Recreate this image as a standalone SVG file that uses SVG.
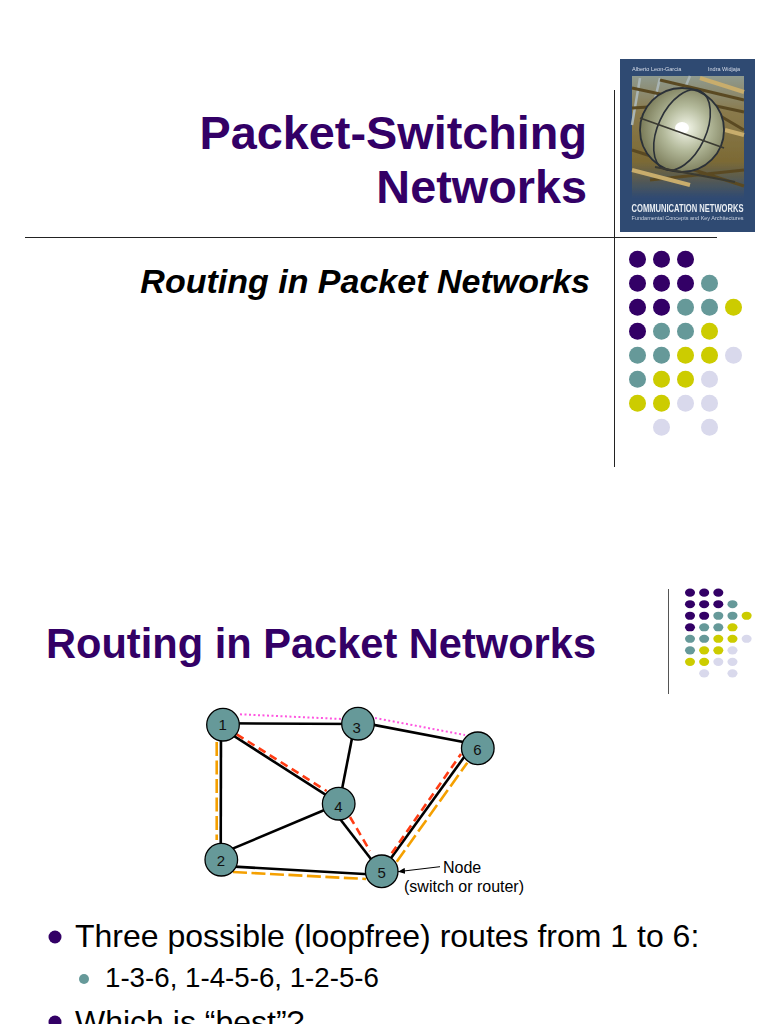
<svg xmlns="http://www.w3.org/2000/svg" width="768" height="1024" viewBox="0 0 768 1024">
<style>
text{font-family:"Liberation Sans",Arial,sans-serif}
.t{fill:#330066;font-weight:bold}
.k{fill:#000}
.p{fill:#330066}.g{fill:#669999}.y{fill:#cccc00}.l{fill:#d9d9ec}
.e{stroke:#000;stroke-width:2.6;fill:none}
.n{fill:#669999;stroke:#000;stroke-width:1.3}
.nt{font-size:15px;fill:#111;text-anchor:middle}
</style>
<defs>
<marker id="ah" markerWidth="8" markerHeight="6" refX="7" refY="3" orient="auto"><path d="M0 0L7 3L0 6z" fill="#000"/></marker>
<g id="dots">
<g class="p"><circle cx="0" cy="0" r="8.5"/><circle cx="24" cy="0" r="8.5"/><circle cx="48" cy="0" r="8.5"/><circle cx="0" cy="24" r="8.5"/><circle cx="24" cy="24" r="8.5"/><circle cx="48" cy="24" r="8.5"/><circle cx="0" cy="48" r="8.5"/><circle cx="24" cy="48" r="8.5"/><circle cx="0" cy="72" r="8.5"/></g>
<g class="g"><circle cx="72" cy="24" r="8.5"/><circle cx="48" cy="48" r="8.5"/><circle cx="72" cy="48" r="8.5"/><circle cx="24" cy="72" r="8.5"/><circle cx="48" cy="72" r="8.5"/><circle cx="0" cy="96" r="8.5"/><circle cx="24" cy="96" r="8.5"/><circle cx="0" cy="120" r="8.5"/></g>
<g class="y"><circle cx="96" cy="48" r="8.5"/><circle cx="72" cy="72" r="8.5"/><circle cx="48" cy="96" r="8.5"/><circle cx="72" cy="96" r="8.5"/><circle cx="24" cy="120" r="8.5"/><circle cx="48" cy="120" r="8.5"/><circle cx="0" cy="144" r="8.5"/><circle cx="24" cy="144" r="8.5"/></g>
<g class="l"><circle cx="96" cy="96" r="8.5"/><circle cx="72" cy="120" r="8.5"/><circle cx="48" cy="144" r="8.5"/><circle cx="72" cy="144" r="8.5"/><circle cx="24" cy="168" r="8.5"/><circle cx="72" cy="168" r="8.5"/></g>
</g>
<radialGradient id="globe" cx="0.55" cy="0.48" r="0.6"><stop offset="0" stop-color="#f4f7ea"/><stop offset="0.45" stop-color="#b3b99a"/><stop offset="1" stop-color="#6f6f4c"/></radialGradient>
<linearGradient id="bg" x1="0" y1="0" x2="0" y2="1"><stop offset="0" stop-color="#8f9a8f"/><stop offset="0.3" stop-color="#8a7a4c"/><stop offset="0.7" stop-color="#7c6a35"/><stop offset="1" stop-color="#2f4a72"/></linearGradient>
<filter id="soft"><feGaussianBlur stdDeviation="0.6"/></filter>
<filter id="soft2"><feGaussianBlur stdDeviation="0.25"/></filter>
</defs>
<rect width="768" height="1024" fill="#fff"/>

<g id="cover">
<rect x="620" y="59" width="135" height="173" fill="#2f4a72"/>
<g filter="url(#soft)">
<rect x="632" y="76" width="112" height="122" fill="url(#bg)"/>
<path d="M640 78L632 125M660 78L650 120M690 76L684 90" stroke="#a9b4b4" stroke-width="2.500" fill="none"/>
<path d="M632 88L744 112M660 80L744 100M632 108L700 104L744 130M632 150L744 186M650 180L744 170" stroke="#5a4a24" stroke-width="3" fill="none"/>
<path d="M700 78L744 92M725 130L744 135M632 170L690 185" stroke="#c8ad6c" stroke-width="4" fill="none"/>
<circle cx="682" cy="130" r="42" fill="url(#globe)"/>
<ellipse cx="682" cy="128" rx="7" ry="6" fill="#fff"/>
<circle cx="682" cy="130" r="42" fill="none" stroke="#2c3038" stroke-width="1.800"/>
<ellipse cx="682" cy="130" rx="24" ry="43" transform="rotate(25 682 130)" fill="none" stroke="#2c3038" stroke-width="1.600"/>
<path d="M640 118L724 148M655 167L735 182" stroke="#3a3a32" stroke-width="1.800" fill="none"/>
</g>
<g filter="url(#soft2)">
<text x="632" y="71" font-size="5.500" fill="#d6dce8">Alberto Leon-Garcia</text>
<text x="708" y="71" font-size="5.500" fill="#d6dce8">Indra Widjaja</text>
<text x="687.500" y="212" font-size="11" font-weight="bold" fill="#e8edf2" text-anchor="middle" textLength="112" lengthAdjust="spacingAndGlyphs">COMMUNICATION NETWORKS</text>
<text x="687.500" y="220" font-size="5.500" fill="#c8d0de" text-anchor="middle">Fundamental Concepts and Key Architectures</text>
</g>
</g>

<g id="slide1-rules" stroke="#222" stroke-width="1">
<line x1="614.500" y1="90" x2="614.500" y2="467"/>
<line x1="25" y1="237.500" x2="717" y2="237.500"/>
</g>
<use href="#dots" x="637.500" y="259.300"/>

<text class="t" x="587" y="149" font-size="46.800" text-anchor="end">Packet-Switching</text>
<text class="t" x="587" y="203" font-size="46.800" text-anchor="end">Networks</text>
<text x="590" y="293" font-size="34" font-weight="bold" font-style="italic" text-anchor="end" class="k">Routing in Packet Networks</text>

<line x1="668.500" y1="589" x2="668.500" y2="694" stroke="#555" stroke-width="1"/>
<use href="#dots" transform="translate(690 592.700) scale(0.59 0.48)"/>
<text class="t" x="46" y="658" font-size="41.600">Routing in Packet Networks</text>

<g id="connectors">
<g class="e">
<line x1="223" y1="723.300" x2="358" y2="724"/>
<line x1="358" y1="721.900" x2="477.800" y2="744.700"/>
<line x1="221" y1="724.700" x2="220.700" y2="859.700"/>
<line x1="223" y1="729" x2="338.700" y2="803.200"/>
<line x1="354.800" y1="724" x2="338.700" y2="806"/>
<line x1="221.300" y1="853.400" x2="338.700" y2="804"/>
<line x1="330" y1="806" x2="381" y2="872"/>
<line x1="221.300" y1="865.900" x2="381.700" y2="875"/>
<line x1="381.500" y1="871.300" x2="470.500" y2="748.300"/>
</g>
<path d="M240 714.300L342 719M375 718L465 735" fill="none" stroke="#ff55e0" stroke-width="2" stroke-dasharray="2 2.500"/>
<path d="M236.700 734.300L326.700 791M350 817L370 851M391.700 853.300L461 754" fill="none" stroke="#ff3c14" stroke-width="2.600" stroke-dasharray="8 5"/>
<path d="M216.700 742L216.700 840M233 872L366 879M396.700 861.700L467.300 762.700" fill="none" stroke="#f5a000" stroke-width="2.600" stroke-dasharray="14 4.500"/>
<line x1="440" y1="866.700" x2="398" y2="871.700" stroke="#000" stroke-width="1" marker-end="url(#ah)"/>
</g>

<g id="node1"><circle class="n" cx="223" cy="724.700" r="16.300"/><text class="nt" x="222.700" y="730">1</text></g>
<g id="node3"><circle class="n" cx="358" cy="723.700" r="16.300"/><text class="nt" x="356.700" y="732.500">3</text></g>
<g id="node6"><circle class="n" cx="477.800" cy="748.300" r="16.300"/><text class="nt" x="477.300" y="755">6</text></g>
<g id="node4"><circle class="n" cx="338.700" cy="803.700" r="16.300"/><text class="nt" x="338.300" y="812">4</text></g>
<g id="node2"><circle class="n" cx="221.300" cy="859.700" r="16.300"/><text class="nt" x="221" y="866">2</text></g>
<g id="node5"><circle class="n" cx="381.700" cy="871.300" r="16.300"/><text class="nt" x="381.700" y="878">5</text></g>
<text x="443" y="872.700" font-size="16" class="k">Node</text>
<text x="404" y="891.700" font-size="16" class="k">(switch or router)</text>

<circle cx="55" cy="937" r="6.500" class="p"/>
<text x="75" y="947" font-size="32" class="k">Three possible (loopfree) routes from 1 to 6:</text>
<circle cx="84" cy="979" r="5" class="g"/>
<text x="105" y="987" font-size="27.700" class="k">1-3-6, 1-4-5-6, 1-2-5-6</text>
<circle cx="55" cy="1022" r="6.500" class="p"/>
<text x="75" y="1033" font-size="32" class="k">Which is “best”?</text>
</svg>
